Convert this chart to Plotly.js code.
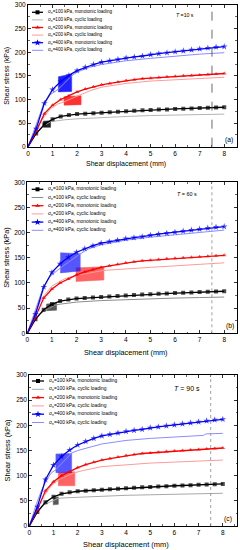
<!DOCTYPE html>
<html><head><meta charset="utf-8">
<script src="https://cdn.plot.ly/plotly-3.0.1.min.js"></script>
<style>body{margin:0;padding:0;background:#fff}#chart{width:240px;height:550px}</style>
</head><body><div id="chart"></div>
<script>
// ---------- DATA ----------
const dispMono = [0,0.333,0.667,1,1.333,1.667,2,2.333,2.667,3,3.333,3.667,4,4.333,4.667,5,5.333,5.667,6,6.333,6.667,7,7.333,7.667,8];
const mono100 = [0,28,47,58,64,67,69,70,71,72,73,74,75,76,77,77.5,78.5,79,80,80.5,81,82,82.5,83,83.5];
const mono200 = [0,33,70,88,100,108,116,122,127,131,134,137,140,142,144,145,146.5,148,149,150,151,152,153,154,155];
const mono400 = [0,38,92,121,138,151,161,168,174,179,182,185,188,190,192,195,197,199,201,203,205,207,209,211,212];

// cyclic loading, T = 10 s
const a100x = [0,0.15,0.3,0.45,0.62,0.92,1.2,1.5,2,3,4,5,6,7,8];
const a100y = [0,14,25,35,43,53,55,57,59,62,64,66,67,68,69];
const a200x = [0,0.15,0.3,0.6,0.9,1.2,1.47,2.16,2.5,3,4,5,6,7,8];
const a200y = [0,18,32,60,80,90,95,110,118,126,134,139,142,145,147];
const a400x = [0,0.15,0.3,0.6,0.9,1.24,1.78,2,2.5,3,4,5,6,7,8];
const a400y = [0,20,42,85,110,122,150,158,168,174,182,187,192,196,199];
// cyclic loading, T = 60 s
const b100x = [0,0.15,0.3,0.5,0.78,1.19,1.5,2,3,4,5,6,7,8];
const b100y = [0,15,27,38,47,57,59,62,65,67,69,70,71,72];
const b200x = [0,0.15,0.3,0.6,1.0,1.5,1.98,3.11,3.5,4,5,6,7,8];
const b200y = [0,22,40,70,94,108,115,125,126,128,131,134,137,140];
const b400x = [0,0.15,0.3,0.6,0.9,1.35,2.15,2.5,3,4,5,6,7,8];
const b400y = [0,22,40,85,112,130,158,168,176,185,191,196,201,205];
// cyclic loading, T = 90 s
const c100x = [0,0.15,0.3,0.6,0.99,1.2,1.5,2,3,4,5,6,7,8];
const c100y = [0,14,25,42,50,55,56,57,60,61,62,63,64,65];
const c200x = [0,0.15,0.3,0.6,0.9,1.2,1.88,2.2,3,4,5,6,7,8];
const c200y = [0,20,32,60,80,92,106,110,118,122,125,127,129,131];
const c400x = [0,0.15,0.3,0.5,0.7,0.9,1.1,1.75,2,3,4,5,6,7,7.2,7.3,8];
const c400y = [0,25,45,70,90,105,112,145,150,163,170,174,177,179,180,183,184];

// cyclic bands: [x start, x end], lower envelope, upper envelope
const a100band = {x:[0.62,0.92], lo:[41,41], hi:[54,55]};
const a200band = {x:[1.47,2.16], lo:[88,89], hi:[106,108]};
const a400band = {x:[1.24,1.78], lo:[116,117], hi:[148,154]};
const b100band = {x:[0.78,1.19], lo:[45,46], hi:[58,60]};
const b200band = {x:[1.98,3.11], lo:[103,106], hi:[130,132]};
const b400band = {x:[1.35,2.15], lo:[120,124], hi:[160,158]};
const c100band = {x:[0.99,1.2], lo:[42,43], hi:[56,58]};
const c200band = {x:[1.2,1.88], lo:[80,80], hi:[106,108]};
const c400band = {x:[1.1,1.75], lo:[106,106], hi:[143,144]};

const legendLabels = [
  "σ<sub>n</sub>=100 kPa, monotonic loading",
  "σ<sub>n</sub>=100 kPa, cyclic loading",
  "σ<sub>n</sub>=200 kPa, monotonic loading",
  "σ<sub>n</sub>=200 kPa, cyclic loading",
  "σ<sub>n</sub>=400 kPa, monotonic loading",
  "σ<sub>n</sub>=400 kPa, cyclic loading"
];
const periodLabels = ["<i>T</i> =10 s", "<i>T</i> = 60 s", "<i>T</i> = 90 s"];
const panelLabels = ["(a)", "(b)", "(c)"];
const xTicks = [0,1,2,3,4,5,6,7,8];
const yTicks = [0,50,100,150,200,250,300];
const refDisp = 7.5;

// ---------- STYLE / LAYOUT ----------
const W = 240, H = 550;
const FONT = "Liberation Sans, Arial, sans-serif";
const panels = [
  {x0:28, x1:237, xmax:8.52, top:5, bot:146.7, cyc:[a100x,a100y,a200x,a200y,a400x,a400y], bands:[a100band,a200band,a400band],
   grayC:"#b4b4b4", bandOp:0.92, vdash:"dash", vcol:"#444", legTop:12.3, legGap:7.6, legFont:4.6, legLx:[32,43], legTx:45.5,
   tPos:[185,15], tSize:5.2, lab:[228.5,140], xTitleY:164, fs:7},
  {x0:27.3, x1:237, xmax:8.52, top:182.3, bot:333.3, cyc:[b100x,b100y,b200x,b200y,b400x,b400y], bands:[b100band,b200band,b400band],
   grayC:"#8c8c8c", bandOp:0.7, vdash:"dot", vcol:"#888", legTop:189.3, legGap:8.2, legFont:4.9, legLx:[31.7,43.3], legTx:46,
   tPos:[187,194], tSize:5.4, lab:[229.5,325.7], xTitleY:352.7, fs:7.3},
  {x0:29.3, x1:237.3, xmax:8.6, top:375, bot:526, cyc:[c100x,c100y,c200x,c200y,c400x,c400y], bands:[c100band,c200band,c400band],
   grayC:"#a8a8a8", bandOp:0.7, vdash:"dot", vcol:"#888", legTop:381, legGap:8.3, legFont:4.9, legLx:[32,44], legTx:46.5,
   tPos:[187,388.3], tSize:7, lab:[228,519], xTitleY:544, fs:7.5}
];
const monoCol = ["#000000","#ff0000","#0000ff"];
const cycColFn = p => [p.grayC, "#ff9a9a", "#8c8cff"];
const bandCol = ["#111111","#ff2020","#1010ff"];
const symbols = ["square","triangle-up","star"];

const data = [], shapes = [], annotations = [];
const layout = {width:W, height:H, margin:{l:0,r:0,t:0,b:0}, showlegend:false,
  paper_bgcolor:"#fff", plot_bgcolor:"#fff", font:{family:FONT, color:"#000"}, shapes, annotations};

panels.forEach((p, i) => {
  const n = i === 0 ? "" : String(i + 1);
  const xa = "x" + n, ya = "y" + n;
  const xd = [p.x0 / W, p.x1 / W], yd = [1 - p.bot / H, 1 - p.top / H];
  const axCommon = {showline:true, linecolor:"#000", linewidth:1, mirror:"ticks", ticks:"inside", ticklen:3,
    tickwidth:0.8, tickcolor:"#000", showgrid:false, zeroline:false, tickfont:{size:6.5, family:FONT}, fixedrange:true};
  layout["xaxis" + n] = Object.assign({}, axCommon, {domain:xd, range:[0, p.xmax], anchor:ya, tickmode:"array", tickvals:xTicks,
    ticktext:xTicks.map(String), minor:{ticks:"inside", ticklen:1.6, tickvals:xTicks.map(v => v + 0.5), tickcolor:"#000", tickwidth:0.6}});
  layout["yaxis" + n] = Object.assign({}, axCommon, {domain:yd, range:[0, 300], anchor:xa, tickmode:"array", tickvals:yTicks,
    ticktext:yTicks.map(String), minor:{ticks:"inside", ticklen:1.6, tickvals:yTicks.map(v => v + 25), tickcolor:"#000", tickwidth:0.6}});

  const cycCol = cycColFn(p);
  const monos = [mono100, mono200, mono400];
  // bands
  p.bands.forEach((b, k) => {
    data.push({type:"scatter", mode:"lines", xaxis:xa, yaxis:ya, x:[b.x[0], b.x[1], b.x[1], b.x[0], b.x[0]],
      y:[b.lo[0], b.lo[1], b.hi[1], b.hi[0], b.lo[0]], fill:"toself", fillcolor:bandCol[k], opacity:p.bandOp,
      line:{width:0.5, color:bandCol[k]}, hoverinfo:"skip"});
  });
  // cyclic lines
  for (let k = 0; k < 3; k++) {
    data.push({type:"scatter", mode:"lines", xaxis:xa, yaxis:ya, x:p.cyc[2*k], y:p.cyc[2*k+1],
      line:{width:1, color:cycCol[k]}, hoverinfo:"skip"});
  }
  // monotonic
  for (let k = 0; k < 3; k++) {
    data.push({type:"scatter", mode:"lines+markers", xaxis:xa, yaxis:ya, x:dispMono, y:monos[k],
      line:{width:1.3, color:monoCol[k]}, marker:{symbol:symbols[k], size:dispMono.map((v, j) => j === 0 ? 0 : (k === 2 ? 5 : 4)), color:monoCol[k], line:{width:0}},
      hoverinfo:"skip"});
  }
  // vertical reference line
  shapes.push({type:"line", xref:xa, yref:ya + " domain", x0:refDisp, x1:refDisp, y0:0, y1:1,
    line:{color:p.vcol, width:0.8, dash:p.vdash}});

  // manual legend
  const toDX = px => (px - p.x0) / (p.x1 - p.x0) * p.xmax;
  const toDY = py => (p.bot - py) / (p.bot - p.top) * 300;
  for (let r = 0; r < 6; r++) {
    const py = p.legTop + r * p.legGap;
    const k = Math.floor(r / 2), isMono = r % 2 === 0;
    shapes.push({type:"line", xref:"paper", yref:"paper", x0:p.legLx[0] / W, x1:p.legLx[1] / W, y0:1 - py / H, y1:1 - py / H,
      line:{color:isMono ? monoCol[k] : cycCol[k], width:isMono ? 1.3 : 1}});
    if (isMono) {
      data.push({type:"scatter", mode:"markers", xaxis:xa, yaxis:ya, x:[toDX((p.legLx[0] + p.legLx[1]) / 2)], y:[toDY(py)],
        marker:{symbol:symbols[k], size:k === 2 ? 5 : 4, color:monoCol[k], line:{width:0}}, hoverinfo:"skip", cliponaxis:false});
    }
    annotations.push({xref:"paper", yref:"paper", x:p.legTx / W, y:1 - py / H, xanchor:"left", yanchor:"middle",
      text:legendLabels[r], showarrow:false, font:{size:p.legFont, family:FONT, color:"#000"}});
  }
  annotations.push({xref:"paper", yref:"paper", x:p.tPos[0] / W, y:1 - p.tPos[1] / H, xanchor:"center", yanchor:"middle",
    text:periodLabels[i], showarrow:false, font:{size:p.tSize, family:FONT}});
  annotations.push({xref:"paper", yref:"paper", x:p.lab[0] / W, y:1 - p.lab[1] / H, xanchor:"center", yanchor:"middle",
    text:panelLabels[i], showarrow:false, font:{size:6.8, family:FONT}});
  annotations.push({xref:"paper", yref:"paper", x:((p.x0 + p.x0 + 8 * (p.x1 - p.x0) / p.xmax) / 2) / W, y:1 - p.xTitleY / H,
    xanchor:"center", yanchor:"middle", text:"Shear displacement (mm)", showarrow:false, font:{size:p.fs, family:FONT}});
  annotations.push({xref:"paper", yref:"paper", x:7 / W, y:1 - ((p.top + p.bot) / 2) / H, xanchor:"center", yanchor:"middle",
    text:"Shear stress (kPa)", textangle:-90, showarrow:false, font:{size:p.fs, family:FONT}});
});

Plotly.newPlot("chart", data, layout, {staticPlot:true, displayModeBar:false});
</script>
</body></html>
